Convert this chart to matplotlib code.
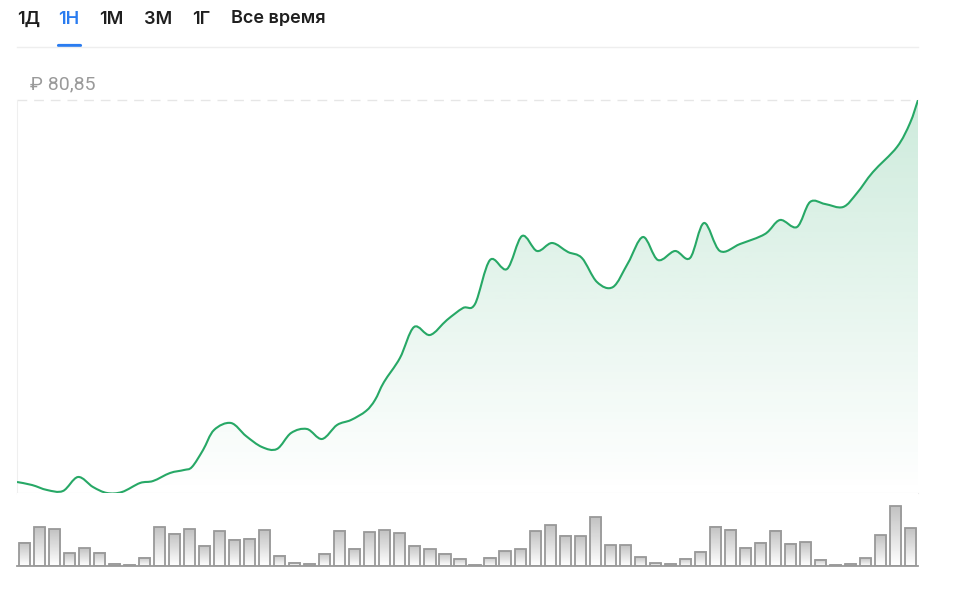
import numpy as np
import matplotlib.pyplot as plt
from matplotlib.path import Path
from matplotlib.patches import PathPatch
from matplotlib.lines import Line2D

plt.rcParams['font.family'] = ['Inter', 'DejaVu Sans']

# period tabs
tabs = ['1Д', '1Н', '1М', '3М', '1Г', 'Все время']
active_tab = '1Н'

# price line (time in bar units, price in RUB)
t = [0.0, 1.0, 2.0, 3.06, 4.06, 5.06, 5.99, 6.99, 8.19, 9.06, 10.19, 11.12, 11.65,
     12.39, 13.12, 14.25, 15.25, 16.31, 17.31, 18.25, 19.31, 20.31, 21.31, 22.24,
     23.24, 23.84, 24.44, 25.5, 26.44, 27.5, 28.63, 29.7, 30.5, 31.5, 32.63, 33.63,
     34.63, 35.63, 36.69, 37.62, 38.62, 39.69, 40.69, 41.69, 42.68, 43.82, 44.82,
     45.75, 46.81, 48.15, 49.81, 50.81, 51.94, 52.81, 53.81, 55.01, 55.94, 57.0,
     58.6, 59.47, 60.0]
price = [77.03, 77.00, 76.95, 76.94, 77.08, 76.98, 76.92, 76.93, 77.02, 77.04, 77.12,
         77.15, 77.18, 77.35, 77.55, 77.62, 77.49, 77.38, 77.36, 77.52, 77.56, 77.46,
         77.60, 77.65, 77.74, 77.85, 78.03, 78.27, 78.58, 78.50, 78.65, 78.77, 78.81,
         79.25, 79.16, 79.49, 79.34, 79.42, 79.33, 79.27, 79.03, 78.98, 79.22, 79.48,
         79.25, 79.34, 79.27, 79.62, 79.34, 79.41, 79.51, 79.65, 79.58, 79.83, 79.81,
         79.78, 79.92, 80.13, 80.38, 80.62, 80.85]

# trading volume per bar
volume = [23, 39, 37, 12.7, 17.7, 13.3, 2, 1, 8.3, 38.7, 32.3, 36.7, 20, 35, 26.3,
          27, 36, 10, 3, 2.3, 12, 35.3, 17.3, 34, 36, 33, 20, 16.7, 12, 7.3, 1.3, 8,
          14.7, 16.7, 35, 41, 30, 29.7, 49, 20.7, 20.7, 8.7, 2.7, 2, 7, 14, 39.3,
          36.3, 18, 23, 35.3, 22.3, 23.7, 6, 1.3, 2.3, 7.7, 30.7, 60, 37.7]

green = '#27a866'
W, H = 974, 597


def box(x0, y0, x1, y1):
    return [x0 / W, 1 - y1 / H, (x1 - x0) / W, (y1 - y0) / H]


def smooth_path(x, y):
    pts = np.column_stack([x, y])
    ext = np.vstack([pts[0], pts, pts[-1]])
    verts = [pts[0]]
    codes = [Path.MOVETO]
    for i in range(len(pts) - 1):
        p0, p1, p2, p3 = ext[i], ext[i + 1], ext[i + 2], ext[i + 3]
        verts += [p1 + (p2 - p0) / 6, p2 - (p3 - p1) / 6, p2]
        codes += [Path.CURVE4] * 3
    return verts, codes


fig = plt.figure(figsize=(W / 100, H / 100), dpi=100)

# header tabs
tab_x = [17, 58, 99, 144, 192, 231]
for x, name in zip(tab_x, tabs):
    col = '#2a7cf0' if name == active_tab else '#1f1f1f'
    fig.text(x / W, 1 - 19 / H, name, fontsize=13, fontweight='semibold',
             color=col, va='center', ha='left')
fig.add_artist(Line2D([58 / W, 80 / W], [1 - 44.5 / H] * 2, color='#2a7cf0',
                      lw=2.3, solid_capstyle='round'))
fig.add_artist(Line2D([17 / W, 918 / W], [1 - 46.5 / H] * 2, color='#eeeeee', lw=1))

fig.text(30 / W, 1 - 84 / H, '₽ ' + f'{max(price):.2f}'.replace('.', ','),
         fontsize=14, color='#9a9a9a', va='center', ha='left',
         family=['Roboto', 'DejaVu Sans'])

# price area
ax = fig.add_axes(box(17, 100, 918, 493))
ymin, ymax = 76.92, 80.85
verts, codes = smooth_path(t, price)
ax.add_patch(PathPatch(Path(verts, codes), fill=False, edgecolor=green, lw=1.5, zorder=3))

fverts = verts + [(t[-1], ymin), (t[0], ymin), (t[0], price[0])]
fcodes = codes + [Path.LINETO, Path.LINETO, Path.CLOSEPOLY]
clip = PathPatch(Path(fverts, fcodes), facecolor='none', edgecolor='none')
ax.add_patch(clip)
grad = np.zeros((256, 1, 4))
grad[..., :3] = np.array([39, 168, 102]) / 255
grad[:, 0, 3] = np.linspace(0.23, 0.0, 256)
im = ax.imshow(grad, extent=[0, 60, ymin, ymax], aspect='auto', origin='upper', zorder=1)
im.set_clip_path(clip)

ax.axhline(ymax, color='#e6e6e6', lw=1, dashes=(7, 5), zorder=2, clip_on=False)
ax.set_xlim(0, 60)
ax.set_ylim(ymin, ymax)
ax.set_xticks([])
ax.set_yticks([])
for s in ['top', 'right']:
    ax.spines[s].set_visible(False)
ax.spines['left'].set_color('#efefef')
ax.spines['bottom'].set_color('#ebebeb')

# volume bars
axv = fig.add_axes(box(17, 493, 918, 566))
xs = np.arange(len(volume)) + 0.5
bars = axv.bar(xs, volume, width=0.74, facecolor='none', edgecolor='#999999',
               lw=1.3, zorder=3)
bgrad = np.linspace(0.76, 1.0, 64).reshape(-1, 1)
for b in bars:
    axv.imshow(bgrad, cmap='gray', vmin=0, vmax=1, aspect='auto',
               extent=[b.get_x(), b.get_x() + b.get_width(), 0, b.get_height()],
               origin='upper', zorder=2)
axv.set_xlim(0, 60)
axv.set_ylim(0, 73)
axv.set_xticks([])
axv.set_yticks([])
for s in ['top', 'right', 'left']:
    axv.spines[s].set_visible(False)
axv.spines['bottom'].set_color('#999999')
axv.spines['bottom'].set_linewidth(1.3)

fig.savefig('out.png', dpi=100)
